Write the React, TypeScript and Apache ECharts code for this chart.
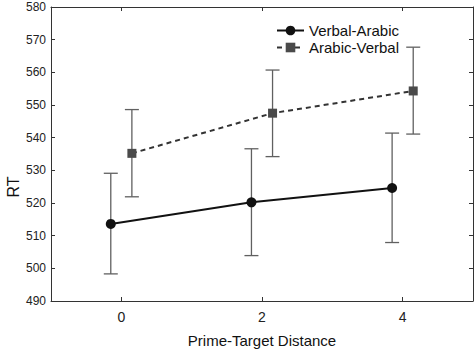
import React, { useEffect, useRef } from "react";
import * as echarts from "echarts";

const distances = [0, 2, 4];
const xTickValues = [0, 2, 4];

const verbalArabicRT = [513.6, 520.2, 524.6];
const verbalArabicLow = [498.3, 503.9, 507.9];
const verbalArabicHigh = [529.1, 536.6, 541.4];

const arabicVerbalRT = [535.2, 547.5, 554.3];
const arabicVerbalLow = [521.9, 534.2, 541.1];
const arabicVerbalHigh = [548.6, 560.7, 567.7];

const OFFSET = 0.15;
const FONT = "Liberation Sans, Arial, sans-serif";

export default function App() {
  const ref = useRef<HTMLDivElement>(null);
  useEffect(() => {
    document.body.style.margin = "0";
    const chart = echarts.init(ref.current!, undefined, { renderer: "svg" });

    const vaPts = distances.map((d, i) => [d - OFFSET, verbalArabicRT[i]]);
    const avPts = distances.map((d, i) => [d + OFFSET, arabicVerbalRT[i]]);
    const errData = [
      ...distances.map((d, i) => [d - OFFSET, verbalArabicLow[i], verbalArabicHigh[i]]),
      ...distances.map((d, i) => [d + OFFSET, arabicVerbalLow[i], arabicVerbalHigh[i]]),
    ];

    const errRender = (params: any, api: any) => {
      const x = api.value(0);
      const lo = api.coord([x, api.value(1)]);
      const hi = api.coord([x, api.value(2)]);
      const half = 7;
      const style = { stroke: "#606060", lineWidth: 1.3 };
      return {
        type: "group",
        children: [
          { type: "line", shape: { x1: lo[0], y1: lo[1], x2: hi[0], y2: hi[1] }, style },
          { type: "line", shape: { x1: lo[0] - half, y1: lo[1], x2: lo[0] + half, y2: lo[1] }, style },
          { type: "line", shape: { x1: hi[0] - half, y1: hi[1], x2: hi[0] + half, y2: hi[1] }, style },
        ],
      };
    };

    const frameLine = { show: true, onZero: false, lineStyle: { color: "#333", width: 1 } };

    chart.setOption({
      animation: false,
      backgroundColor: "#fff",
      textStyle: { fontFamily: FONT },
      grid: { left: 51, right: 1, top: 7, bottom: 48, containLabel: false },
      legend: {
        orient: "vertical",
        left: 276,
        top: 22,
        padding: 0,
        itemWidth: 27,
        itemHeight: 12,
        itemGap: 0,
        textStyle: { fontSize: 15, lineHeight: 17, color: "#111", fontFamily: FONT },
        data: ["Verbal-Arabic", "Arabic-Verbal"],
      },
      xAxis: [
        {
          type: "value",
          min: -1,
          max: 5,
          position: "bottom",
          axisLine: frameLine,
          axisTick: { show: true, inside: true, length: 4, customValues: xTickValues, lineStyle: { color: "#333" } },
          axisLabel: { customValues: xTickValues, fontSize: 14, color: "#222", margin: 9, fontFamily: FONT },
          splitLine: { show: false },
          name: "Prime-Target Distance",
          nameLocation: "middle",
          nameGap: 32,
          nameTextStyle: { fontSize: 15, color: "#111", fontFamily: FONT },
        },
        {
          type: "value",
          min: -1,
          max: 5,
          position: "top",
          axisLine: frameLine,
          axisLabel: { show: false },
          splitLine: { show: false },
          axisTick: { show: true, inside: true, length: 4, customValues: xTickValues, lineStyle: { color: "#333" } },
        },
      ],
      yAxis: [
        {
          type: "value",
          min: 490,
          max: 580,
          interval: 10,
          position: "left",
          axisLine: frameLine,
          axisTick: { show: true, inside: true, length: 4, lineStyle: { color: "#333" } },
          axisLabel: { fontSize: 12, color: "#222", margin: 5, fontFamily: FONT },
          splitLine: { show: false },
        },
        {
          type: "value",
          min: 490,
          max: 580,
          interval: 10,
          position: "right",
          axisLine: frameLine,
          axisLabel: { show: false },
          splitLine: { show: false },
          axisTick: { show: true, inside: true, length: 4, lineStyle: { color: "#333" } },
        },
      ],
      graphic: [
        {
          type: "text",
          x: 13,
          y: 187,
          rotation: Math.PI / 2,
          style: {
            text: "RT",
            fontSize: 16,
            fill: "#111",
            fontFamily: FONT,
            align: "center",
            verticalAlign: "middle",
          },
        },
      ],
      series: [
        {
          type: "custom",
          name: "errors",
          renderItem: errRender,
          data: errData,
          encode: { x: 0, y: [1, 2] },
          z: 1,
          silent: true,
        },
        {
          type: "line",
          name: "Verbal-Arabic",
          data: vaPts,
          symbol: "circle",
          symbolSize: 10,
          itemStyle: { color: "#111" },
          lineStyle: { color: "#111", width: 2 },
          z: 3,
        },
        {
          type: "line",
          name: "Arabic-Verbal",
          data: avPts,
          symbol: "rect",
          symbolSize: 9,
          itemStyle: { color: "#4a4a4a" },
          lineStyle: { color: "#333", width: 2, type: [5, 4] },
          z: 3,
        },
      ],
    });
    return () => chart.dispose();
  }, []);
  return <div ref={ref} style={{ width: 474, height: 353 }} />;
}
